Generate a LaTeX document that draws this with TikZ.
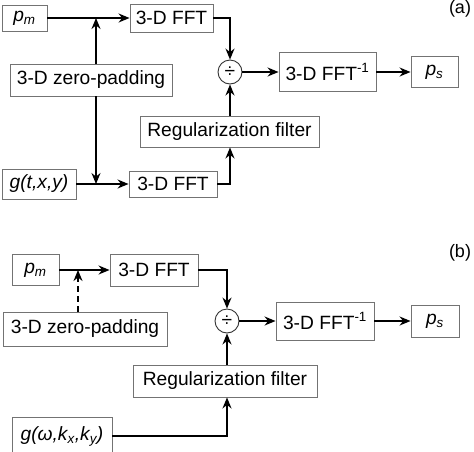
\documentclass[tikz,border=0pt]{standalone}
\usepackage{fontspec}
\setmainfont{Liberation Sans}
\usetikzlibrary{arrows.meta,calc}
\tikzset{
  block/.style={
    draw=black!55,
    line width=0.9pt,
    inner sep=0pt,
    font=\fontsize{19.2}{22}\selectfont
  },
  divider/.style={
    shape=circle,
    draw=black!80,
    line width=0.9pt,
    minimum size=24pt,
    inner sep=0pt,
    font=\fontsize{19.2}{22}\selectfont
  },
  flow/.style={
    line width=1.5pt,
    -{Stealth[length=11pt,width=9pt]}
  },
  panel/.style={
    inner sep=0pt,
    font=\fontsize{18}{20}\selectfont
  }
}
\begin{document}
\begin{tikzpicture}[x=1pt,y=-1pt]
  \useasboundingbox (0,0) rectangle (474,451);
  % (a)
  \node[panel] (labA) at (460,9) {(a)};
  \node[block, minimum width=45pt, minimum height=26pt] (pmA) at (24.5,18) {\textit{p\textsubscript{m}}};
  \node[block, minimum width=83pt, minimum height=28pt] (fftA) at (171.5,18) {3-D FFT};
  \node[block, minimum width=162pt, minimum height=32pt] (zpA) at (91,80) {3-D zero-padding};
  \node[divider] (divA) at (230,72) {÷};
  \node[block, minimum width=97pt, minimum height=39pt] (ifftA) at (327.5,72) {3-D FFT\textsuperscript{-1}};
  \node[block, minimum width=47pt, minimum height=31pt] (psA) at (434.5,72) {\textit{p\textsubscript{s}}};
  \node[block, minimum width=179pt, minimum height=31pt] (regA) at (229.5,131.5) {Regularization filter};
  \node[block, minimum width=74pt, minimum height=30pt] (gA) at (39,184) {\textit{g(t,x,y)}};
  \node[block, minimum width=88pt, minimum height=26pt] (fftAA) at (173,184) {3-D FFT};
  \coordinate (upA) at (96,18);
  \coordinate (dnA) at (96,184);

  \draw[flow] (pmA.east) -- (fftA.west);
  \draw[flow] (zpA.north -| upA) -- (upA);
  \draw[flow] (zpA.south -| dnA) -- (dnA);
  \draw[flow] (gA.east) -- (fftAA.west);
  \draw[flow] (fftA.east) -| (divA.north);
  \draw[flow] (fftAA.east) -| (regA.south -| divA);
  \draw[flow] (regA.north -| divA) -- (divA.south);
  \draw[flow] (divA.east) -- (ifftA.west);
  \draw[flow] (ifftA.east) -- (psA.west);

  % (b)
  \node[panel] (labB) at (460,253) {(b)};
  \node[block, minimum width=47pt, minimum height=31pt] (pmB) at (35.5,270) {\textit{p\textsubscript{m}}};
  \node[block, minimum width=88pt, minimum height=32pt] (fftB) at (154,270) {3-D FFT};
  \node[block, minimum width=164pt, minimum height=34pt] (zpB) at (85,329) {3-D zero-padding};
  \node[divider] (divB) at (227,321) {÷};
  \node[block, minimum width=98pt, minimum height=38pt] (ifftB) at (325,321) {3-D FFT\textsuperscript{-1}};
  \node[block, minimum width=48pt, minimum height=32pt] (psB) at (435,321) {\textit{p\textsubscript{s}}};
  \node[block, minimum width=184pt, minimum height=32pt] (regB) at (225,381) {Regularization filter};
  \node[block, minimum width=100pt, minimum height=37pt] (gB) at (62,436) {\textit{g(ω,k\textsubscript{x},k\textsubscript{y})}};
  \coordinate (upB) at (78,270);

  \draw[flow] (pmB.east) -- (fftB.west);
  \draw[flow, dash pattern=on 6pt off 4pt] (zpB.north -| upB) -- (upB);
  \draw[flow] (fftB.east) -| (divB.north);
  \draw[flow] (gB.east) -| (regB.south -| divB);
  \draw[flow] (regB.north -| divB) -- (divB.south);
  \draw[flow] (divB.east) -- (ifftB.west);
  \draw[flow] (ifftB.east) -- (psB.west);
\end{tikzpicture}
\end{document}
